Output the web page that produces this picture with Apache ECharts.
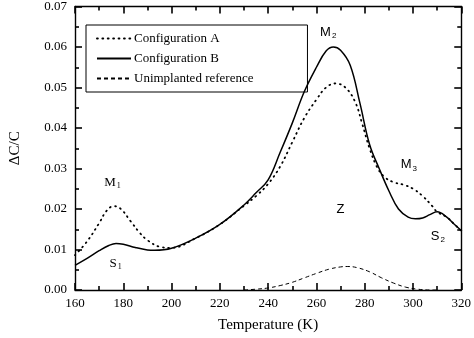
<!DOCTYPE html>
<html>
<head>
<meta charset="utf-8">
<script src="https://cdn.jsdelivr.net/npm/echarts@6/dist/echarts.min.js"></script>
<style>
  html, body { margin: 0; padding: 0; background: #fff; }
  #chart { width: 474px; height: 338px; }
</style>
</head>
<body>
<div id="chart"></div>
<script>
// Capacitance change ΔC/C versus temperature
const tempsA = [160,165,170,173,176,179,183,187,190,195,200,210,220,230,235,240,245,250,255,260,264,268,272,276,279,282,285,288,292,296,300,304,308,310,314,317,320];
const valuesA = [0.0086,0.0120,0.0165,0.0195,0.0207,0.0200,0.0170,0.0140,0.0123,0.0107,0.0104,0.0128,0.0162,0.0208,0.0232,0.0262,0.0305,0.0365,0.0425,0.0470,0.0500,0.0510,0.0500,0.0465,0.0410,0.0350,0.0305,0.0280,0.0266,0.0260,0.0250,0.0232,0.0207,0.0193,0.0180,0.0163,0.0147];

const tempsB = [160,165,170,174,177,180,185,190,193,200,210,220,230,235,240,245,250,255,260,264,267,270,274,278,282,286,290,294,298,301,304,307,310,314,317,320];
const valuesB = [0.0061,0.0078,0.0097,0.0110,0.0115,0.0113,0.0105,0.0099,0.0098,0.0103,0.0128,0.0162,0.0210,0.0240,0.0272,0.0340,0.0412,0.0490,0.0550,0.0590,0.0600,0.0592,0.0555,0.0462,0.0360,0.0300,0.0245,0.0200,0.0180,0.0176,0.0178,0.0186,0.0193,0.0180,0.0163,0.0147];

const tempsRef = [230,235,240,245,250,255,260,265,270,273,277,282,287,292,297,302,307,310];
const valuesRef = [0.0000,0.0002,0.0005,0.0011,0.0019,0.0030,0.0041,0.0051,0.0057,0.0058,0.0055,0.0045,0.0030,0.0017,0.0007,0.0002,0.0000,0.0000];

const seriesNames = ['Configuration A', 'Configuration B', 'Unimplanted reference'];

// Peak annotations: [label, subscript, temperature, value, font]
const peakLabels = [
  ['M', '1', 175.5, 0.0266, 'Liberation Serif'],
  ['S', '1', 176.8, 0.0066, 'Liberation Serif'],
  ['M', '2', 264.9, 0.0637, 'Liberation Sans'],
  ['Z', '', 270.0, 0.0198, 'Liberation Sans'],
  ['M', '3', 298.3, 0.0310, 'Liberation Sans'],
  ['S', '2', 310.3, 0.0133, 'Liberation Sans']
];

const xTicks = { min: 160, max: 320, interval: 20 };
const yTicks = { min: 0, max: 0.07, interval: 0.01 };

const pair = (xs, ys) => xs.map((x, i) => [x, ys[i]]);
const serif = 'Liberation Serif';

// Shared frame style: inward major and minor ticks on all four sides
function axisCommon(showLabels) {
  return {
    axisLine: { show: true, onZero: false, lineStyle: { color: '#000', width: 1.4 } },
    axisTick: { show: true, inside: true, length: 7, lineStyle: { color: '#000', width: 1.6 } },
    minorTick: { show: true, splitNumber: 2, length: 4, lineStyle: { color: '#000', width: 1.6 } },
    splitLine: { show: false },
    axisLabel: { show: showLabels, color: '#000', fontFamily: serif, fontSize: 13 }
  };
}

const chart = echarts.init(document.getElementById('chart'), null, { renderer: 'canvas' });

const markData = peakLabels.map(p => ({
  coord: [p[2], p[3]],
  label: {
    formatter: p[1] ? p[0] + '{s|' + p[1] + '}' : p[0],
    fontFamily: p[4]
  }
}));

chart.setOption({
  animation: false,
  backgroundColor: '#fff',
  grid: { left: 72, right: 11, top: 5, bottom: 46 },
  legend: {
    left: 86, top: 25,
    orient: 'vertical',
    data: seriesNames,
    itemWidth: 34, itemHeight: 10, itemGap: 7,
    padding: [7, 54, 7, 10],
    borderColor: '#000', borderWidth: 1,
    itemStyle: { opacity: 0 },
    textStyle: { color: '#000', fontFamily: serif, fontSize: 13, padding: [0, 0, 0, -2] }
  },
  xAxis: [
    Object.assign(axisCommon(true), {
      type: 'value', position: 'bottom', min: xTicks.min, max: xTicks.max, interval: xTicks.interval,
      name: 'Temperature (K)', nameLocation: 'middle', nameGap: 28,
      nameTextStyle: { color: '#000', fontFamily: serif, fontSize: 15 },
      axisLabel: { show: true, color: '#000', fontFamily: serif, fontSize: 13, margin: 7 }
    }),
    Object.assign(axisCommon(false), {
      type: 'value', position: 'top', min: xTicks.min, max: xTicks.max, interval: xTicks.interval
    })
  ],
  yAxis: [
    Object.assign(axisCommon(true), {
      type: 'value', position: 'left', min: yTicks.min, max: yTicks.max, interval: yTicks.interval,
      name: 'ΔC/C', nameLocation: 'middle', nameGap: 52,
      nameTextStyle: { color: '#000', fontFamily: serif, fontSize: 15 },
      axisLabel: { show: true, color: '#000', fontFamily: serif, fontSize: 13, margin: 8,
        formatter: v => v.toFixed(2) }
    }),
    Object.assign(axisCommon(false), {
      type: 'value', position: 'right', min: yTicks.min, max: yTicks.max, interval: yTicks.interval
    })
  ],
  series: [
    {
      name: seriesNames[0], type: 'line', data: pair(tempsA, valuesA),
      smooth: 0.4, showSymbol: false, symbol: 'none',
      lineStyle: { color: '#000', width: 1.8, type: [0.8, 4.6], cap: 'round' },
      itemStyle: { color: '#000' }, z: 3
    },
    {
      name: seriesNames[1], type: 'line', data: pair(tempsB, valuesB),
      smooth: 0.4, showSymbol: false, symbol: 'none',
      lineStyle: { color: '#000', width: 1.5, type: 'solid' },
      itemStyle: { color: '#000' }, z: 4,
      markPoint: {
        symbol: 'circle', symbolSize: 0,
        label: {
          show: true, position: 'inside', color: '#000', fontSize: 13,
          rich: { s: { fontSize: 8, verticalAlign: 'bottom', padding: [8, 0, 0, 1], color: '#000' } }
        },
        data: markData
      }
    },
    {
      name: seriesNames[2], type: 'line', data: pair(tempsRef, valuesRef),
      smooth: 0.4, showSymbol: false, symbol: 'none',
      lineStyle: { color: '#000', width: 1, type: [4, 3] },
      itemStyle: { color: '#000' }, z: 2
    }
  ]
});
</script>
</body>
</html>
